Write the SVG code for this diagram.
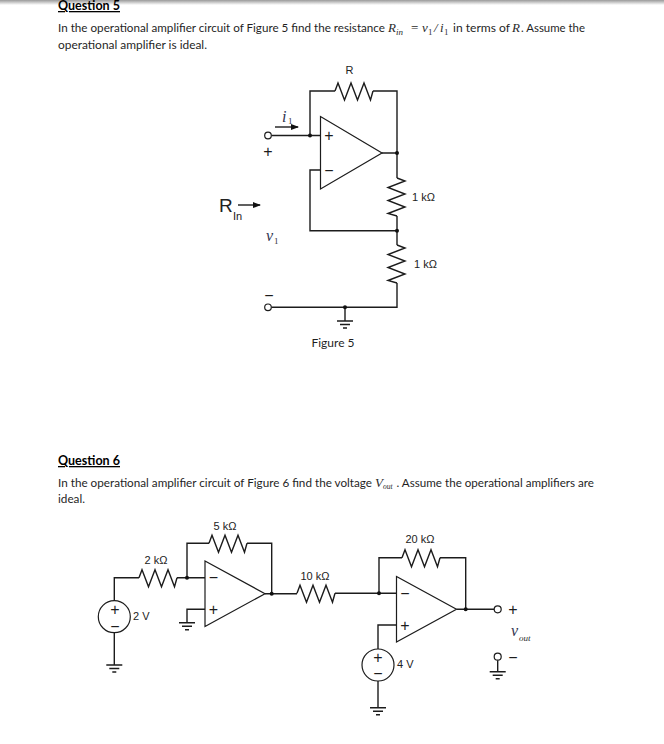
<svg xmlns="http://www.w3.org/2000/svg" xmlns:xlink="http://www.w3.org/1999/xlink" width="664" height="744" viewBox="0 0 664 744">
<style>
.w{fill:none;stroke:#1c1c1c;stroke-width:1.4;stroke-linejoin:miter}
.t{font-family:Lato,"Open Sans",sans-serif;font-size:12px;fill:#1f1f1f}
.b{font-weight:700;font-size:13px;text-decoration:underline;fill:#000}
.m{font-family:"Liberation Serif",serif;font-style:italic;font-size:13px;fill:#2a2a2a}
.mb{font-size:16px;fill:#2f3450}
.ms{font-size:9px}
.s{font-family:"Liberation Sans",Arial,sans-serif;font-size:11px;fill:#222}
.p{font-family:"Liberation Sans",Arial,sans-serif;font-size:16px;fill:#1c1c1c;text-anchor:middle}
.c{font-family:"Liberation Serif",serif;font-size:9px;fill:#333}
.d{fill:#111}
.o{fill:#fff;stroke:#1c1c1c;stroke-width:1.2}
.n{fill:none}
</style>
<defs>
<linearGradient id="sh" x1="0" y1="0" x2="0" y2="1"><stop offset="0" stop-color="#9a9a9a"/><stop offset="1" stop-color="#fff"/></linearGradient>
<path id="res" class="w" d="M0 0L3-8L9.500 9L16-8L22.500 9L29-8L35.500 9L38 0"/>
<g id="gnd"><path class="w" d="M-8 0H8M-5 3.500H5M-2 7H2"/></g>
<marker id="ah" markerWidth="8" markerHeight="6" refX="7" refY="3" orient="auto" markerUnits="userSpaceOnUse"><path d="M0 0L8 3L0 6Z" fill="#111"/></marker>
</defs>
<rect width="664" height="744" fill="#fff"/>
<rect width="664" height="5" fill="url(#sh)"/>

<g id="text-q5">
<text class="t b" x="58" y="10" textLength="62" lengthAdjust="spacingAndGlyphs">Question 5</text>
<text class="t" x="58" y="32" textLength="327" lengthAdjust="spacingAndGlyphs">In the operational amplifier circuit of Figure 5 find the resistance</text>
<text class="m" x="388" y="32">R<tspan class="ms" dy="3">in</tspan></text>
<text class="m" x="411" y="32" style="font-style:normal">=</text>
<text class="m" x="422" y="32">v</text><text class="c" x="428" y="35">1</text>
<text class="m" x="434" y="32">/</text>
<text class="m" x="440" y="32">i</text><text class="c" x="444" y="35">1</text>
<text class="t" x="453" y="32" textLength="57" lengthAdjust="spacingAndGlyphs">in terms of</text>
<text class="m" x="512" y="32">R</text>
<text class="t" x="521" y="32" textLength="64" lengthAdjust="spacingAndGlyphs">. Assume the</text>
<text class="t" x="58" y="49" textLength="149" lengthAdjust="spacingAndGlyphs">operational amplifier is ideal.</text>
</g>

<g id="connectors">
<path class="w" d="M271.500 135.500H320.500M310 135.500V91H335M373 91H397V178M382 153H397M320.500 170H310V230.700H397M397 216V245M397 283V307.300H271.500M345 307.300V321"/>
<path class="w" d="M114.300 600.700V577.700H139M177 577.700H205M187 577.700V543.300H209M247 543.300H271.700V593.700M265 593.700H297M335 593.300H396.500M379 593.300V557.700H402M440 557.700H465.700V609.300M456.500 609.300H494.200M205 609.300H187V622.700M114.300 632.700V665"/>
<path class="w" d="M396.500 625H378V649M378 681V707.700M497.700 660.200V671.700"/>
<path class="w" d="M275 127H298" stroke-width="1" marker-end="url(#ah)"/>
<path class="w" d="M238 205H260" stroke-width="1" marker-end="url(#ah)"/>
<circle class="d" cx="310" cy="135.500" r="2"/><circle class="d" cx="397" cy="153" r="2"/><circle class="d" cx="397" cy="230.700" r="2"/><circle class="d" cx="345" cy="307.300" r="2"/>
<circle class="d" cx="187" cy="577.700" r="2"/><circle class="d" cx="271.700" cy="593.700" r="2"/><circle class="d" cx="379" cy="593.300" r="2"/><circle class="d" cx="465.700" cy="609.300" r="2"/>
</g>

<g id="fig5-opamp"><path class="o n" d="M320.500 116.500V189L382 153Z"/><text class="p" x="329" y="141">+</text><text class="p" x="329" y="175.500">−</text></g>
<g id="fig5-R"><use xlink:href="#res" x="335" y="91"/><text class="s" x="349.500" y="74" text-anchor="middle">R</text></g>
<g id="fig5-R1"><use xlink:href="#res" transform="translate(397 178) rotate(90)"/><text class="s" x="412" y="201">1 kΩ</text></g>
<g id="fig5-R2"><use xlink:href="#res" transform="translate(397 245) rotate(90)"/><text class="s" x="414" y="268">1 kΩ</text></g>
<g id="fig5-gnd"><use xlink:href="#gnd" x="345" y="321"/></g>
<g id="fig5-term-plus"><circle class="o" cx="268" cy="135.500" r="3.300"/><text class="p" x="268" y="156.500">+</text></g>
<g id="fig5-term-minus"><circle class="o" cx="268" cy="307.300" r="3.300"/><text class="p" x="269" y="300.500">−</text></g>
<g id="fig5-labels">
<text class="m mb" x="282" y="122">i</text><text class="c" x="288" y="124">1</text>
<text class="m mb" x="266" y="241">v</text><text class="c" x="274" y="244">1</text>
<text font-family="Liberation Sans,Arial,sans-serif" font-size="19" fill="#222" x="219" y="212">R</text>
<text font-family="Liberation Sans,Arial,sans-serif" font-size="11" fill="#222" x="233" y="220">In</text>
<text class="t" x="333" y="347" text-anchor="middle">Figure 5</text>
</g>

<g id="text-q6">
<text class="t b" x="58" y="465" textLength="62" lengthAdjust="spacingAndGlyphs">Question 6</text>
<text class="t" x="58" y="487" textLength="314" lengthAdjust="spacingAndGlyphs">In the operational amplifier circuit of Figure 6 find the voltage</text>
<text class="m" x="375" y="487">V<tspan dy="2" style="font-size:7.500px">out</tspan></text>
<text class="t" x="396.500" y="487" textLength="197.500" lengthAdjust="spacingAndGlyphs">. Assume the operational amplifiers are</text>
<text class="t" x="58" y="503" textLength="27" lengthAdjust="spacingAndGlyphs">ideal.</text>
</g>

<g id="fig6-source1"><circle class="o n" cx="114.300" cy="616.700" r="16"/><text class="p" x="115" y="614.500">+</text><text class="p" x="115" y="631.500">−</text><text class="s" x="133" y="620">2 V</text></g>
<g id="fig6-gnd1"><use xlink:href="#gnd" x="114.300" y="665"/></g>
<g id="fig6-R2k"><use xlink:href="#res" x="139" y="577.700"/><text class="s" x="156" y="564" text-anchor="middle">2 kΩ</text></g>
<g id="fig6-R5k"><use xlink:href="#res" x="209" y="543.300"/><text class="s" x="225" y="530" text-anchor="middle">5 kΩ</text></g>
<g id="fig6-opamp1"><path class="o" d="M205 561V626.500L265 593.700Z"/><text class="p" x="213.500" y="615">+</text><text class="p" x="213.500" y="582.500">−</text></g>
<g id="fig6-gnd2"><use xlink:href="#gnd" x="187" y="622.700"/></g>
<g id="fig6-R10k"><use xlink:href="#res" x="297" y="593.300"/><text class="s" x="315" y="580" text-anchor="middle">10 kΩ</text></g>
<g id="fig6-R20k"><use xlink:href="#res" x="402" y="557.700"/><text class="s" x="420" y="543" text-anchor="middle">20 kΩ</text></g>
<g id="fig6-opamp2"><path class="o" d="M396.500 576.500V642L456.500 609.300Z"/><text class="p" x="405" y="630.500">+</text><text class="p" x="405" y="598.500">−</text></g>
<g id="fig6-source2"><circle class="o n" cx="378" cy="665" r="16"/><text class="p" x="378" y="662.500">+</text><text class="p" x="378" y="678.500">−</text><text class="s" x="397" y="668">4 V</text></g>
<g id="fig6-gnd3"><use xlink:href="#gnd" x="378" y="707.700"/></g>
<g id="fig6-term-plus"><circle class="o" cx="497.700" cy="609.300" r="3.500"/><text class="p" x="513" y="614.500">+</text></g>
<g id="fig6-term-minus"><circle class="o" cx="497.700" cy="656.700" r="3.500"/><text class="p" x="513" y="662.500">−</text><use xlink:href="#gnd" x="497.700" y="671.700"/></g>
<g id="fig6-vout"><text class="m mb" x="511" y="636">v</text><text class="m ms" x="519" y="641">out</text></g>
</svg>
